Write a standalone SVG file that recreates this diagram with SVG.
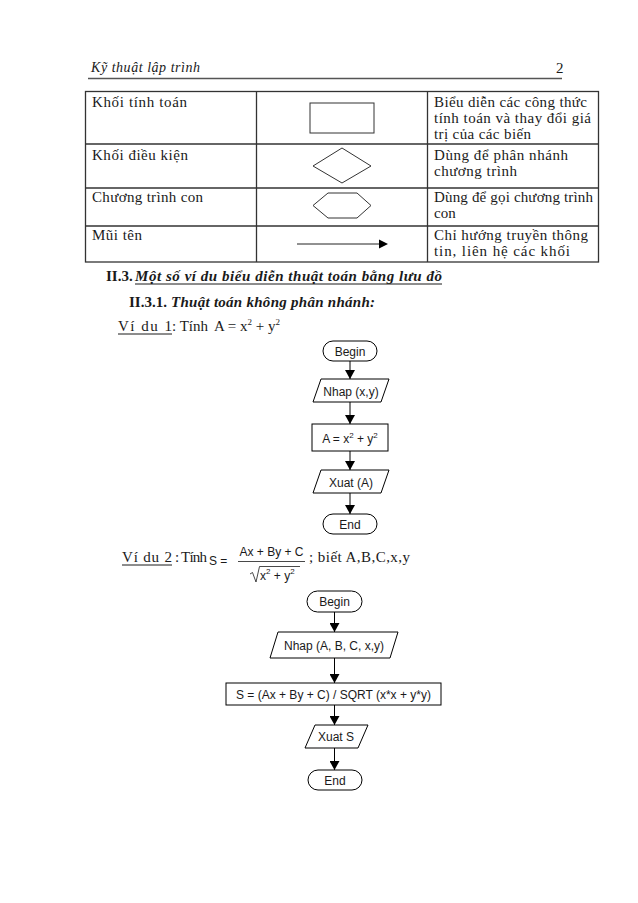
<svg xmlns="http://www.w3.org/2000/svg" width="638" height="903" viewBox="0 0 638 903">
<style>
.serif{font-family:"Liberation Serif","Times New Roman",serif;fill:#1a1a1a}
.t{font-size:15px}
.sans{font-family:"Liberation Sans",Arial,sans-serif;fill:#1a1a1a;font-size:12px}
.grid{stroke:#333;stroke-width:1.3;fill:none}
.shp{stroke:#333;stroke-width:1;fill:#fff}
.fc{stroke:#000;stroke-width:1;fill:#fff}
.con{stroke:#000;stroke-width:1;fill:none;marker-end:url(#ah)}
.ul{stroke:#1a1a1a;stroke-width:1}
</style>
<defs>
<marker id="ah" markerUnits="userSpaceOnUse" markerWidth="9" markerHeight="10" refX="9" refY="5" orient="auto">
<path d="M0,0 L9,5 L0,10 z" fill="#000"/>
</marker>
</defs>
<rect width="638" height="903" fill="#fff"/>

<g id="header">
<text class="serif" x="91" y="72" font-size="14" font-style="italic" textLength="109" lengthAdjust="spacing">Kỹ thuật lập trình</text>
<text class="serif" x="556" y="73" font-size="15">2</text>
<line x1="88" y1="78.5" x2="562" y2="78.5" stroke="#555" stroke-width="1.5"/>
</g>

<g id="table">
<rect class="grid" x="85.5" y="91.5" width="513" height="170.5"/>
<line class="grid" x1="85.5" y1="144" x2="598.5" y2="144"/>
<line class="grid" x1="85.5" y1="188" x2="598.5" y2="188"/>
<line class="grid" x1="85.5" y1="226" x2="598.5" y2="226"/>
<line class="grid" x1="256.5" y1="91.5" x2="256.5" y2="262"/>
<line class="grid" x1="427.5" y1="91.5" x2="427.5" y2="262"/>
<g class="serif t">
<text x="92" y="107" textLength="95" lengthAdjust="spacing">Khối tính toán</text>
<text x="434" y="107" textLength="153" lengthAdjust="spacing">Biểu diễn các công thức</text>
<text x="434" y="123" textLength="157" lengthAdjust="spacing">tính toán và thay đổi giá</text>
<text x="434" y="139" textLength="97" lengthAdjust="spacing">trị của các biến</text>
<text x="92" y="160" textLength="96" lengthAdjust="spacing">Khối điều kiện</text>
<text x="434" y="160" textLength="134" lengthAdjust="spacing">Dùng để phân nhánh</text>
<text x="434" y="176" textLength="83" lengthAdjust="spacing">chương trình</text>
<text x="92" y="202" textLength="111" lengthAdjust="spacing">Chương trình con</text>
<text x="434" y="202" textLength="159" lengthAdjust="spacing">Dùng để gọi chương trình</text>
<text x="434" y="218">con</text>
<text x="92" y="240" textLength="50" lengthAdjust="spacing">Mũi tên</text>
<text x="434" y="240" textLength="154" lengthAdjust="spacing">Chỉ hướng truyền thông</text>
<text x="434" y="256" textLength="136" lengthAdjust="spacing">tin, liên hệ các khối</text>
</g>
<rect class="shp" x="310" y="103" width="64" height="30"/>
<polygon class="shp" points="342,148 371,166 342,183 313,166"/>
<polygon class="shp" points="328,193 357,193 371,205.5 357,218 328,218 313,205.5"/>
<line x1="297" y1="244" x2="380" y2="244" stroke="#222" stroke-width="1"/>
<path d="M379,239.5 L388,244 L379,248.5 z" fill="#000"/>
</g>

<g id="headings" class="serif t">
<text x="106" y="281" font-weight="bold">II.3.</text>
<text x="135" y="281" font-weight="bold" font-style="italic" textLength="307" lengthAdjust="spacing">Một số ví  du biểu diễn thuật toán bằng lưu đồ</text>
<line class="ul" x1="135" y1="284" x2="442" y2="284"/>
<text x="129" y="307" font-weight="bold">II.3.1.</text>
<text x="171" y="307" font-weight="bold" font-style="italic" textLength="204" lengthAdjust="spacing">Thuật toán không phân nhánh:</text>
<text x="118" y="331" textLength="54" lengthAdjust="spacing">Ví  du 1</text>
<line class="ul" x1="118" y1="334" x2="172" y2="334"/>
<text x="172" y="331">: Tính</text>
<text x="214" y="331">A = x<tspan font-size="9" dy="-6">2</tspan><tspan dy="6"> + y</tspan><tspan font-size="9" dy="-6">2</tspan></text>
</g>

<g id="formula">
<text class="serif t" x="122" y="562" textLength="50" lengthAdjust="spacing">Ví  du 2</text>
<text class="serif t" x="175" y="562" textLength="32" lengthAdjust="spacing">: Tính</text>
<line class="ul" x1="122" y1="565" x2="172" y2="565"/>
<text class="sans" x="209" y="564.5">S =</text>
<text class="sans" x="271.5" y="555.5" text-anchor="middle">Ax + By + C</text>
<line x1="238" y1="561.5" x2="305" y2="561.5" stroke="#1a1a1a" stroke-width="0.8"/>
<path d="M250,574 L252.5,572.5 L256,582 L259.5,566.5 L300,566.5" fill="none" stroke="#1a1a1a" stroke-width="0.8"/>
<text class="sans" x="260" y="580">x<tspan font-size="8" dy="-6">2</tspan><tspan dy="6"> + y</tspan><tspan font-size="8" dy="-6">2</tspan></text>
<text class="serif t" x="309" y="562" textLength="101" lengthAdjust="spacing">;  biết A,B,C,x,y</text>
</g>

<g id="flow1">
<g id="f1-begin"><rect class="fc" x="323" y="341" width="54" height="20" rx="10"/><text class="sans" x="350" y="355.5" text-anchor="middle">Begin</text></g>
<g id="f1-input"><polygon class="fc" points="321,379 389,379 381,402 313,402"/><text class="sans" x="351" y="395.5" text-anchor="middle">Nhap (x,y)</text></g>
<g id="f1-calc"><rect class="fc" x="312" y="424" width="76" height="27"/><text class="sans" x="350" y="442.5" text-anchor="middle">A = x<tspan font-size="8" dy="-5">2</tspan><tspan dy="5"> + y</tspan><tspan font-size="8" dy="-5">2</tspan></text></g>
<g id="f1-output"><polygon class="fc" points="321,470 389,470 381,493 313,493"/><text class="sans" x="351" y="486.5" text-anchor="middle">Xuat (A)</text></g>
<g id="f1-end"><rect class="fc" x="323" y="514" width="54" height="20" rx="10"/><text class="sans" x="350" y="528.5" text-anchor="middle">End</text></g>
</g>

<g id="flow2">
<g id="f2-begin"><rect class="fc" x="307" y="591" width="55" height="21" rx="10.5"/><text class="sans" x="334.5" y="606" text-anchor="middle">Begin</text></g>
<g id="f2-input"><polygon class="fc" points="278,632 398,632 390,658 270,658"/><text class="sans" x="334" y="650" text-anchor="middle">Nhap (A, B, C, x,y)</text></g>
<g id="f2-calc"><rect class="fc" x="226" y="683" width="215" height="22"/><text class="sans" x="333.5" y="698.5" text-anchor="middle">S = (Ax + By + C) / SQRT (x*x + y*y)</text></g>
<g id="f2-output"><polygon class="fc" points="315,725 368,725 358,748 305,748"/><text class="sans" x="336" y="741" text-anchor="middle">Xuat S</text></g>
<g id="f2-end"><rect class="fc" x="308" y="770" width="54" height="20" rx="10"/><text class="sans" x="335" y="784.5" text-anchor="middle">End</text></g>
</g>

<g id="connectors">
<line class="con" x1="350" y1="361" x2="350" y2="379"/>
<line class="con" x1="350" y1="402" x2="350" y2="424"/>
<line class="con" x1="350" y1="451" x2="350" y2="470"/>
<line class="con" x1="350" y1="493" x2="350" y2="514"/>
<line class="con" x1="334.5" y1="612" x2="334.5" y2="632"/>
<line class="con" x1="334.5" y1="658" x2="334.5" y2="683"/>
<line class="con" x1="334.5" y1="705" x2="334.5" y2="725"/>
<line class="con" x1="334.5" y1="748" x2="334.5" y2="770"/>
</g>
</svg>
